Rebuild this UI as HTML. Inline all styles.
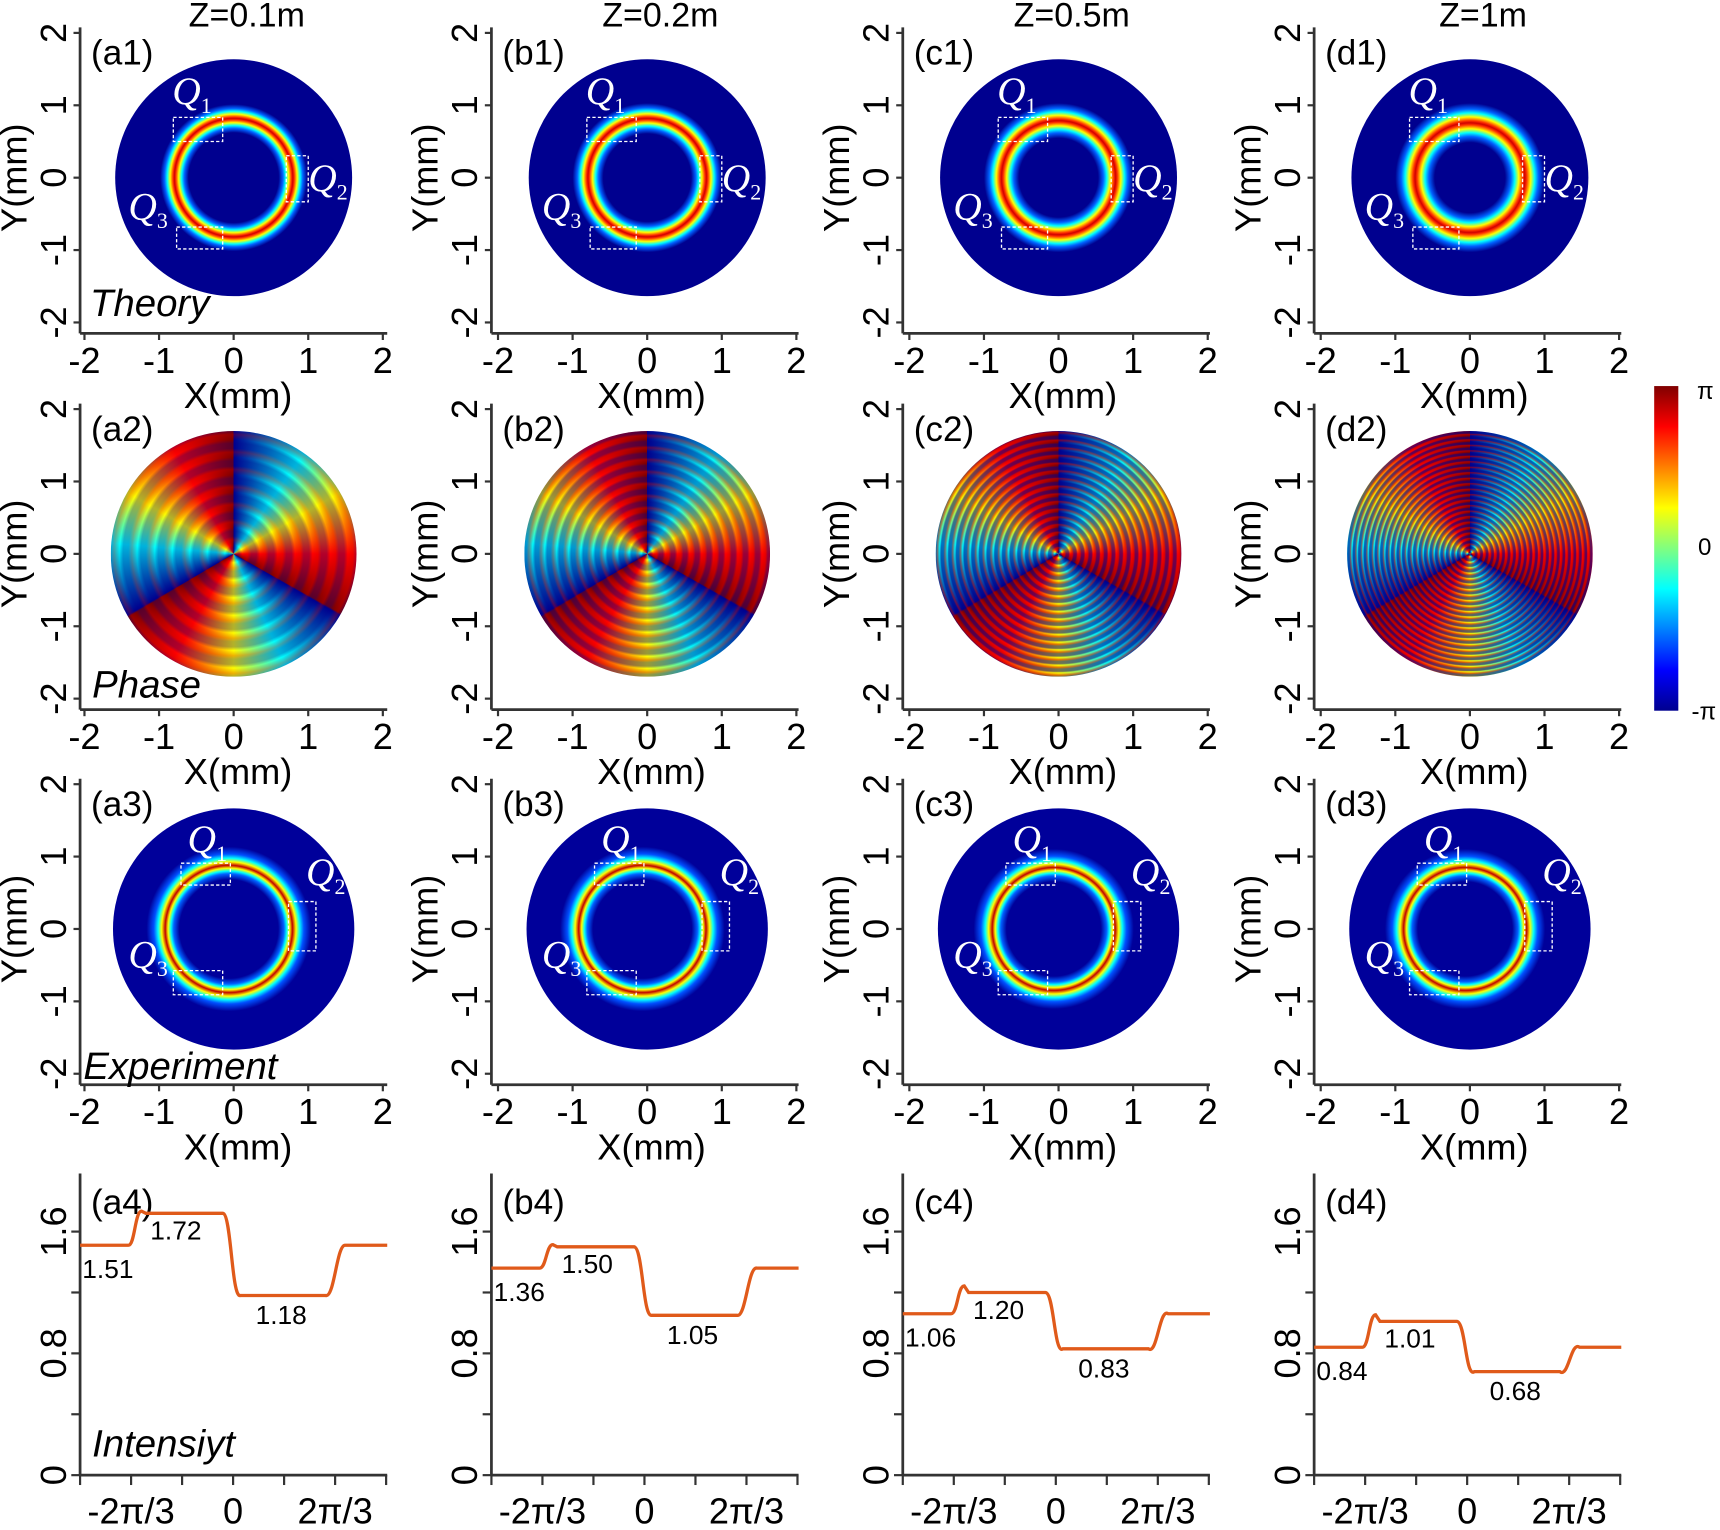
<!DOCTYPE html>
<html><head><meta charset="utf-8"><style>
html,body{margin:0;padding:0;background:#fff;}
#wrap{position:relative;width:1568px;height:1395px;transform:scale(1.09694,1.09677);transform-origin:0 0;overflow:hidden;}
.disc{position:absolute;border-radius:50%;}
svg{position:absolute;left:0;top:0;}
</style></head><body><div id="wrap"></div>
<script>
const W=document.getElementById('wrap');
const jet='#00008f,#0000ff,#0080ff,#00ffff,#80ff80,#ffff00,#ff8000,#ff0000,#800000';
const cols=[213,590,965,1340], axX=[73,448,823,1198];
const rowC=[162,505,847];
const ringR=[54,54,52,50];
for(let c=0;c<4;c++){
  let cx=cols[c],cy=rowC[0],R=108,r=ringR[c],w=[13,14,16,18][c];
  let d=document.createElement('div');d.className='disc';
  Object.assign(d.style,{left:(cx-R)+'px',top:(cy-R)+'px',width:2*R+'px',height:2*R+'px',
   background:`radial-gradient(circle, #00008f 0 ${r-w}px, #0060ff ${r-w*0.7}px, #00ffff ${r-w*0.5}px, #ffff00 ${r-w*0.3}px, #ff3000 ${r-w*0.1}px, #d00000 ${r}px, #ff3000 ${r+w*0.1}px, #ffff00 ${r+w*0.3}px, #00ffff ${r+w*0.5}px, #0060ff ${r+w*0.7}px, #00008f ${r+w}px)`});
  W.appendChild(d);
  cy=rowC[1];R=112;
  d=document.createElement('div');d.className='disc';
  let stops=[];for(let k=0;k<3;k++){stops.push(`#00008f ${k*120}deg,#00ffff ${k*120+35}deg,#ffff00 ${k*120+60}deg,#ff0000 ${k*120+90}deg,#800000 ${k*120+119}deg`);}
  let ringsz=[16,11,7,5][c], op=[0.3,0.4,0.55,0.6][c];
  Object.assign(d.style,{left:(cx-R)+'px',top:(cy-R)+'px',width:2*R+'px',height:2*R+'px',
   background:`repeating-radial-gradient(circle, rgba(0,0,140,${op}) 0 ${ringsz*0.3}px, rgba(0,255,255,0.0) ${ringsz*0.5}px, rgba(200,0,0,${op}) ${ringsz*0.8}px, rgba(0,0,140,${op}) ${ringsz}px), conic-gradient(${stops.join(',')})`});
  W.appendChild(d);
  cy=rowC[2];R=110;r=[58,58,56,56][c];w=13;
  d=document.createElement('div');d.className='disc';
  Object.assign(d.style,{left:(cx-R)+'px',top:(cy-R)+'px',width:2*R+'px',height:2*R+'px',
   background:`radial-gradient(circle at 48% 50%, #00009a 0 ${r-w}px, #0060ff ${r-w*0.6}px, #00ffff ${r-w*0.4}px, #ffff00 ${r-w*0.2}px, #c00000 ${r}px, #ffff00 ${r+w*0.25}px, #00ffff ${r+w*0.5}px, #0050ff ${r+w*0.8}px, #00009a ${r+w+4}px)`});
  W.appendChild(d);
}
let s='<svg width="1568" height="1395" viewBox="0 0 1568 1395" xmlns="http://www.w3.org/2000/svg" font-family="Liberation Sans, sans-serif">';
s+='<defs><linearGradient id="cb" x1="0" y1="1" x2="0" y2="0">';
jet.split(',').forEach((c,i)=>s+=`<stop offset="${i/8}" stop-color="${c}"/>`);
s+='</linearGradient></defs>';
const T=(x,y,t,sz,extra='')=>`<text x="${x}" y="${y}" font-size="${sz}" ${extra}>${t}</text>`;
const Z=['Z=0.1m','Z=0.2m','Z=0.5m','Z=1m'];const L='abcd';
for(let c=0;c<4;c++){
  const ax=axX[c],cx=cols[c];
  s+=T(cx+12,24,Z[c],31,'text-anchor="middle"');
  for(let r=0;r<3;r++){
    const cy=rowC[r],top=cy-132,bot=cy+142;
    s+=`<line x1="${ax}" y1="${top-5}" x2="${ax}" y2="${bot}" stroke="#333" stroke-width="2.5"/><line x1="${ax}" y1="${bot}" x2="${ax+280}" y2="${bot}" stroke="#333" stroke-width="2.5"/>`;
    for(let k=-2;k<=2;k++){
      const y=cy-k*66,x=cx+k*68;
      s+=`<line x1="${ax-6}" y1="${y}" x2="${ax}" y2="${y}" stroke="#333" stroke-width="2"/>`;
      s+=T(0,0,k<0?'-'+(-k):k,33,`text-anchor="middle" transform="translate(${ax-13},${y}) rotate(-90)"`);
      s+=`<line x1="${x}" y1="${bot}" x2="${x}" y2="${bot+6}" stroke="#333" stroke-width="2"/>`;
      s+=T(x,bot+36,k<0?'-'+(-k):k,33,'text-anchor="middle"');
    }
    s+=T(0,0,'Y(mm)',33,`text-anchor="middle" transform="translate(${ax-49},${cy}) rotate(-90)"`);
    s+=T(cx+4,bot+68,'X(mm)',33,'text-anchor="middle"');
    s+=T(ax+10,cy-103,`(${L[c]}${r+1})`,32);
    if(r!==1){
      const q=r==0?[[-55,-55,45,22,-42,-67],[48,-20,20,42,82,12],[-52,45,42,20,-82,38]]:[[-48,-60,45,20,-28,-70],[50,-25,25,45,80,-40],[-55,38,45,22,-82,35]];
      q.forEach((p,i)=>{
        s+=`<rect x="${cx+p[0]}" y="${cy+p[1]}" width="${p[2]}" height="${p[3]}" fill="none" stroke="#fff" stroke-width="1.2" stroke-dasharray="3,2"/>`;
        s+=`<text x="${cx+p[4]-14}" y="${cy+p[5]}" font-size="36" font-style="italic" font-family="Liberation Serif, serif" fill="#fff">Q<tspan font-size="20" dy="8" font-style="normal">${i+1}</tspan></text>`;
      });
    }
  }
  const y0=1345,Y=v=>y0-138.8*v;
  s+=`<line x1="${ax}" y1="1070" x2="${ax}" y2="${y0}" stroke="#333" stroke-width="2.5"/><line x1="${ax}" y1="${y0}" x2="${ax+280}" y2="${y0}" stroke="#333" stroke-width="2.5"/>`;
  [0,0.4,0.8,1.2,1.6].forEach(v=>s+=`<line x1="${ax-8}" y1="${Y(v)}" x2="${ax}" y2="${Y(v)}" stroke="#333" stroke-width="2"/>`);
  [['0',0],['0.8',0.8],['1.6',1.6]].forEach(([t,v])=>s+=T(0,0,t,33,`text-anchor="middle" transform="translate(${ax-13},${Y(v)}) rotate(-90)"`));
  for(let k=0;k<7;k++){const x=ax+k*46.5;s+=`<line x1="${x}" y1="${y0}" x2="${x}" y2="${y0+9}" stroke="#333" stroke-width="2"/>`;}
  s+=T(ax+46.5,y0+44,'-2π/3',33,'text-anchor="middle"')+T(ax+139.5,y0+44,'0',33,'text-anchor="middle"')+T(ax+232.5,y0+44,'2π/3',33,'text-anchor="middle"');
  s+=T(ax+10,1107,`(${L[c]}4)`,32);
  const lv=[[1.51,1.72,1.18],[1.36,1.50,1.05],[1.06,1.20,0.83],[0.84,1.01,0.68]][c];
  const a=Y(lv[0]),b=Y(lv[1]),d=Y(lv[2]);
  const ov=c>=2?6:2;
  s+=`<path d="M${ax},${a} L${ax+44},${a} C${ax+50},${a} ${ax+50},${b-ov} ${ax+56},${b-ov} L${ax+60},${b} L${ax+130},${b} C${ax+138},${b} ${ax+138},${d+ov} ${ax+146},${d} L${ax+224},${d} C${ax+232},${d+ov} ${ax+234},${a-ov} ${ax+242},${a} L${ax+280},${a}" fill="none" stroke="#e05a1a" stroke-width="3"/>`;
  s+=T(ax+2,a+30,lv[0].toFixed(2),24)+T(ax+64,b+24,lv[1].toFixed(2),24)+T(ax+160,d+26,lv[2].toFixed(2),24);
}
s+=T(82,288,'Theory',35,'font-style="italic"')+T(84,636,'Phase',35,'font-style="italic"')+T(76,984,'Experiment',35,'font-style="italic"')+T(84,1328,'Intensiyt',35,'font-style="italic"');
s+='<rect x="1508" y="352" width="22" height="296" fill="url(#cb)"/>';
s+=T(1547,364,'π',22)+T(1548,506,'0',22)+T(1542,656,'-π',22);
s+='</svg>';
W.insertAdjacentHTML('beforeend',s);
</script></body></html>
